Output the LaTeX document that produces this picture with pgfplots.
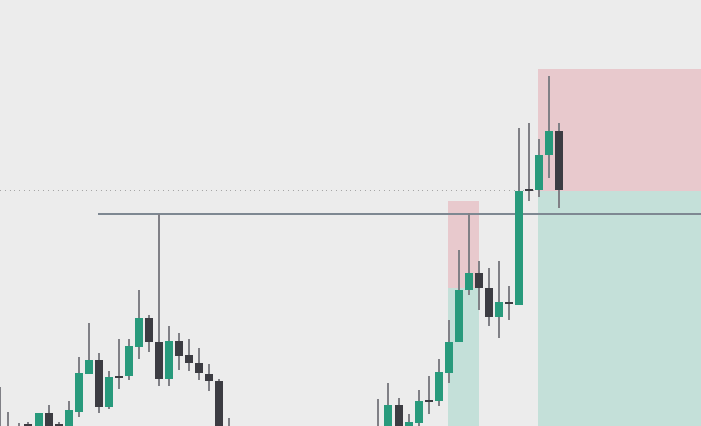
\documentclass[border=0pt]{standalone}
\usepackage{pgfplots}
\usepackage{pgfplotstable}
\pgfplotsset{compat=1.18}
\definecolor{bg}{RGB}{236,236,236}
\definecolor{zpink}{RGB}{232,201,205}
\definecolor{zteal}{RGB}{196,224,217}
\definecolor{cgreen}{RGB}{40,154,124}
\definecolor{cdark}{RGB}{60,60,66}
\definecolor{wick}{RGB}{128,128,134}
\definecolor{hline}{RGB}{126,136,146}
% columns: x, wick top, wick bottom, body top, body bottom (pixel rows, measured from top)
\pgfplotstableread{
x   wt   wb   bt   bb
0   387  426  426  426
8   412  426  426  426
19  423  426  426  426
39  413  426  413  426
69  401  426  410  426
79  357  417  373  412
89  323  374  360  374
109 371  409  377  407
129 339  380  346  376
139 290  359  318  347
169 326  386  341  379
229 418  426  426  426
378 399  426  426  426
388 383  426  405  426
409 414  426  422  426
419 390  426  401  423
439 359  406  372  401
449 320  383  342  373
459 250  342  290  342
469 213  295  273  290
499 261  338  302  317
519 128  305  191  305
539 139  197  155  190
549 76   178  131  155
}\greentab
\pgfplotstableread{
x   wt   wb   bt   bb
28  422  426  424  426
49  405  426  413  426
59  422  426  424  426
99  353  413  360  407
119 339  389  376  378
149 315  352  318  342
159 214  386  342  379
179 333  370  341  356
189 339  371  355  363
199 348  380  363  373
209 364  391  374  381
219 379  426  381  426
399 398  426  405  426
429 376  414  400  402
479 261  310  273  288
489 268  326  288  317
509 286  320  302  304
529 123  201  189  191
559 123  208  131  190
}\darktab
\pgfplotsset{
  candle/.style 2 args={draw=none, mark=none, forget plot,
    error bars/.cd, y dir=both, y explicit, error mark=none,
    error bar style={line width=#1, draw=#2}},
}
\begin{document}
\begin{tikzpicture}
\begin{axis}[
  x=0.5pt, y=0.5pt,
  xmin=0, xmax=701, ymin=0, ymax=426,
  y dir=reverse,
  hide axis,
  clip=true,
]
% background
\addplot[fill=bg, draw=none] coordinates {(0,0) (701,0) (701,426) (0,426)} --cycle;
% zones
\addplot[fill=zpink, draw=none] coordinates {(538,69) (701,69) (701,191) (538,191)} --cycle;
\addplot[fill=zteal, draw=none] coordinates {(538,191) (701,191) (701,426) (538,426)} --cycle;
\addplot[fill=zpink, draw=none] coordinates {(448,201) (479,201) (479,288) (448,288)} --cycle;
\addplot[fill=zteal, draw=none] coordinates {(448,288) (479,288) (479,426) (448,426)} --cycle;
% lines
\addplot[draw=black!35, line width=0.4pt, dotted, mark=none] coordinates {(0,190) (538,190)};
\addplot[draw=hline, line width=1pt, mark=none] coordinates {(98,214) (701,214)};
% wicks
\addplot[candle={0.7pt}{wick}]
  table[x=x, y expr={(\thisrow{wt}+\thisrow{wb})/2}, y error expr={(\thisrow{wb}-\thisrow{wt})/2}] {\greentab};
\addplot[candle={0.7pt}{wick}]
  table[x=x, y expr={(\thisrow{wt}+\thisrow{wb})/2}, y error expr={(\thisrow{wb}-\thisrow{wt})/2}] {\darktab};
% bodies
\addplot[candle={4pt}{cgreen}]
  table[x=x, y expr={(\thisrow{bt}+\thisrow{bb})/2}, y error expr={(\thisrow{bb}-\thisrow{bt})/2}] {\greentab};
\addplot[candle={4pt}{cdark}]
  table[x=x, y expr={(\thisrow{bt}+\thisrow{bb})/2}, y error expr={(\thisrow{bb}-\thisrow{bt})/2}] {\darktab};
\end{axis}
\end{tikzpicture}
\end{document}
